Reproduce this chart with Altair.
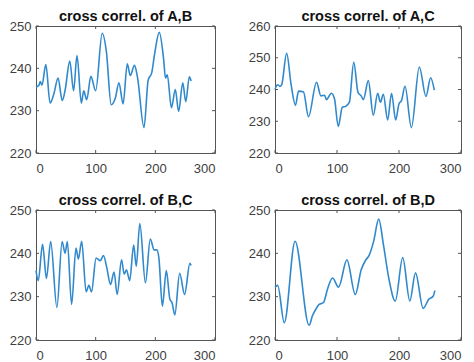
import altair as alt
import pandas as pd

# ---- data ----
ab_x = [0, 5, 7, 10, 16.5, 23.6, 30, 37, 44, 49, 56.6, 63, 68.7, 76, 80, 85, 92, 100, 111, 118, 126, 133, 139, 146,
        153, 158, 165, 170, 181, 188, 194, 199, 206.6, 214, 217, 220, 227, 233.5, 239, 246, 251, 257, 260]
ab_y = [235.6, 236, 236.9, 236, 240.9, 231.8, 234, 237.7, 232.4, 235, 241.7, 234.7, 243, 231.8, 234.7, 232.6, 238.1,
        234.7, 248.3, 243.9, 231.4, 233, 236.6, 231.6, 241.1, 238.3, 240.7, 238, 226, 237.2, 239, 243.6, 248.5, 242,
        237.7, 238.5, 230.7, 235, 229.8, 236.6, 232.1, 238, 237]

ac_x = [0, 4, 8, 10.8, 18.8, 26, 33, 38, 46, 54, 67, 74, 80, 83, 91, 96, 102, 108.6, 114, 120, 127, 134, 139, 142.5,
        150.5, 158.6, 165.6, 170, 174.7, 181.7, 188, 194.6, 200, 204, 209.7, 220, 232.8, 243.5, 251, 257]
ac_y = [240, 241.5, 241, 241.5, 251.4, 241.5, 235, 239.5, 239.2, 231.4, 242.3, 238, 238.2, 236.8, 238.8, 237, 228.4,
        234.4, 234.7, 236, 248.6, 239, 238, 236.8, 242.8, 231.9, 238.8, 236, 238.5, 230.4, 238.8, 230.4, 235.5, 236.5,
        241, 228, 247.1, 237.8, 243.7, 239.8]

bc_x = [0, 3.8, 11, 17.5, 24.6, 35, 43.8, 48.7, 52.5, 59.7, 67, 71, 76.6, 84, 88.7, 93, 100.7, 107.8, 113, 118.8,
        124.8, 130.8, 136, 143.4, 147.8, 151.6, 157, 163.7, 168, 174, 183.4, 191.6, 198, 202.5, 206, 211.8, 218.4,
        224.4, 228, 232.6, 240.8, 249, 258, 260]
bc_y = [236, 233.7, 242.1, 234.2, 242.7, 227.5, 242.7, 240, 242.7, 228.2, 241.2, 238.7, 242.8, 231.1, 232.6, 231.1,
        238.9, 238.3, 239.5, 236.6, 232.8, 235.7, 230.5, 238.5, 235.2, 236.2, 233.7, 241.9, 237, 246.9, 233.2, 243.3,
        240.8, 240.8, 238.9, 227.8, 236, 229.4, 228.6, 225.8, 235.4, 230.5, 237.7, 237.2]

bd_x = [0, 4.3, 15, 32.4, 55, 60.4, 67.5, 71, 78, 85, 92.8, 102.5, 116, 129.5, 139, 145.7, 152, 159, 167.3, 175,
        183.5, 194, 206, 217.5, 226.6, 239, 248, 255, 257.9]
bd_y = [232.2, 232.6, 224, 242.8, 223.4, 225.6, 227.5, 228.2, 228.6, 231.9, 234.3, 232.2, 238.5, 230.5, 236.2, 238.3,
        239.6, 242.7, 247.9, 241.9, 234.3, 229, 239, 229, 235.5, 227.3, 229.4, 230.1, 231.4]

titles = ["cross correl. of A,B", "cross correl. of A,C", "cross correl. of B,C", "cross correl. of B,D"]
y_domains = [[220, 250], [220, 260], [220, 250], [220, 250]]
x_ticks = [0, 100, 200, 300]

LINE = "#3089cc"
FRAME = "#555555"
TICK = 3


def panel(xs, ys, title, ydom, w, h):
    df = pd.DataFrame({"x": xs, "y": ys})
    yticks = list(range(ydom[0], ydom[1] + 1, 10))
    xs_scale = alt.Scale(domain=[0, 300], nice=False)
    ys_scale = alt.Scale(domain=ydom, nice=False, zero=False)
    x_axis = alt.Axis(values=x_ticks, title=None, labelPadding=9)
    y_axis = alt.Axis(values=yticks, title=None, labelPadding=5)
    line = alt.Chart(df).mark_line(
        color=LINE, strokeWidth=1.6, interpolate="monotone"
    ).encode(
        x=alt.X("x:Q", scale=xs_scale, axis=x_axis),
        y=alt.Y("y:Q", scale=ys_scale, axis=y_axis),
    )
    xt = pd.DataFrame({"x": x_ticks})
    yt = pd.DataFrame({"y": yticks})
    rule = alt.Chart(xt).mark_rule(color=FRAME, strokeWidth=1)
    top = rule.encode(x=alt.X("x:Q", scale=xs_scale, axis=x_axis), y=alt.value(0), y2=alt.value(TICK))
    bottom = rule.encode(x=alt.X("x:Q", scale=xs_scale, axis=x_axis), y=alt.value(h), y2=alt.value(h - TICK))
    rule_y = alt.Chart(yt).mark_rule(color=FRAME, strokeWidth=1)
    left = rule_y.encode(y=alt.Y("y:Q", scale=ys_scale, axis=y_axis), x=alt.value(0), x2=alt.value(TICK))
    right = rule_y.encode(y=alt.Y("y:Q", scale=ys_scale, axis=y_axis), x=alt.value(w), x2=alt.value(w - TICK))
    return alt.layer(line, top, bottom, left, right).properties(
        width=w, height=h, title=alt.TitleParams(title, offset=-4)
    )


p1 = panel(ab_x, ab_y, titles[0], y_domains[0], 179, 127)
p2 = panel(ac_x, ac_y, titles[1], y_domains[1], 186, 127)
p3 = panel(bc_x, bc_y, titles[2], y_domains[2], 179, 130)
p4 = panel(bd_x, bd_y, titles[3], y_domains[3], 186, 130)

chart = alt.concat(
    p1, p2, p3, p4, columns=2, spacing={"row": 57, "column": 60}, bounds="flush", align="each"
).properties(
    padding=0, background="white"
).configure_view(
    stroke=FRAME, strokeWidth=1
).configure_axis(
    domain=False, grid=False, ticks=False,
    labelFont="Liberation Sans", labelFontSize=13, labelColor="#404040",
).configure_title(
    font="Liberation Sans", fontSize=14.5, fontWeight="bold", color="#111111", anchor="middle"
)

chart.save("out.html", embed_options={"renderer": "svg", "actions": False})
